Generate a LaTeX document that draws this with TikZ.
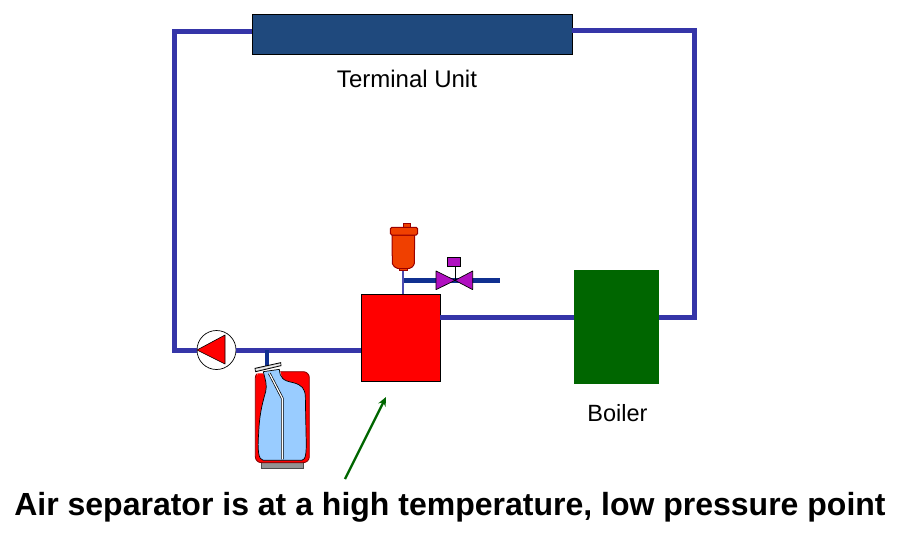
\documentclass[tikz,border=0pt]{standalone}
\usepackage{fontspec}
\setmainfont{Liberation Sans}
\usetikzlibrary{arrows.meta}
\definecolor{pipeblue}{HTML}{3535A8}
\definecolor{darkpipe}{HTML}{103090}
\definecolor{termblue}{HTML}{1F497D}
\definecolor{boilgreen}{HTML}{006600}
\definecolor{bladder}{HTML}{99CCFF}
\definecolor{ventred}{HTML}{F04000}
\definecolor{valvepurple}{HTML}{B010C0}
\tikzset{
  pipe/.style={draw=pipeblue,line width=5pt,line join=miter},
  box/.style={draw=black,line width=0.7pt,inner sep=0,outer sep=0,anchor=north west},
  lbl/.style={inner sep=0,font=\fontsize{24}{28}\selectfont}
}
\begin{document}
\begin{tikzpicture}[x=1pt,y=-1pt]
\useasboundingbox (0,0) rectangle (912,541);
\node[box,fill=termblue,minimum width=320pt,minimum height=40pt] (term) at (252,14) {};
\node[box,fill=red,minimum width=79pt,minimum height=87pt] (sep) at (361,294) {};
\node[box,draw=none,fill=boilgreen,minimum width=85pt,minimum height=114pt] (boiler) at (574,270) {};
\node[circle,draw=black,fill=white,line width=0.7pt,minimum size=39pt,inner sep=0] (pump) at (216.5,350) {};
\coordinate (tl) at (174,31);
\coordinate (bl) at (174,350);
\coordinate (tr) at (694,30);
\coordinate (br) at (694,317);
\coordinate (tee) at (267,350);
\coordinate (tankin) at (267,367);
\draw[pipe] (term.west |- tl) -- (tl) -- (bl) -- (pump.west);
\draw[pipe] (pump.east) -- (sep.west |- pump);
\draw[pipe] (sep.east |- br) -- (boiler.west |- br);
\draw[pipe] (boiler.east |- br) -- (br) -- (tr) -- (term.east |- tr);
\draw[draw=darkpipe,line width=4.6pt] (tee) -- (tankin);
\fill[red,draw=black,line width=0.6pt,line join=round] (197,350) -- (225,335) -- (225,364) -- cycle;
\begin{scope}[shift={(180,320)},x=0.333333pt,y=-0.333333pt]
  \draw[fill=gray!85,draw=gray!60!black,line width=0.5pt] (245,428) rectangle (370,445);
  \draw[fill=red,draw=black!50!red,line width=0.8pt,rounded corners=6pt] (226,155) -- (388,155) -- (388,428) -- (226,428) -- cycle;
  \fill[white] (226,145) -- (298,145) -- (305,170) -- (236,170) -- (226,155) -- cycle;
  \fill[red] (232,160) -- (250,160) -- (262,200) -- (232,300) -- cycle;
  \draw[fill=bladder,draw=black,line width=0.7pt,line join=round]
    (250,155) .. controls (256,180) and (262,195) .. (257,215)
    .. controls (244,260) and (238,290) .. (236,340)
    .. controls (232,390) and (235,420) .. (250,421)
    -- (365,421) .. controls (378,420) and (380,400) .. (378,340)
    -- (376,230) .. controls (375,205) and (365,195) .. (340,188)
    .. controls (310,182) and (300,175) .. (298,148) -- cycle;
  \draw[draw=black,line width=2.6pt,line join=round] (307,418) -- (307,235) -- (268,160);
  \draw[draw=white,line width=1.2pt,line join=round] (307,418) -- (307,235) -- (268,160);
  \draw[fill=gray!40,draw=black,line width=0.8pt] (225,145) -- (302,128) -- (303,137) -- (227,155) -- cycle;
  \draw[draw=white,line width=0.6pt] (226,150) -- (302,133);
\end{scope}
\begin{scope}[shift={(370,215)},x=0.333333pt,y=-0.333333pt]
  \coordinate (stemtop) at (99,165);
  \coordinate (stembot) at (99,238);
  \coordinate (vl) at (103,196);
  \coordinate (vr) at (390,196);
  \coordinate (vc) at (255,196);
  \draw[draw=gray!60!blue,line width=1.4pt] (stemtop) -- (stembot);
  \draw[draw=darkpipe,line width=4.6pt] (vl) -- (vr);
  \draw[fill=ventred,draw=black!40!red,line width=1pt] (100,25) rectangle (122,37);
  \draw[fill=ventred,draw=black!40!red,line width=1pt,line join=round]
    (66,60) -- (67,145) .. controls (70,155) and (80,161) .. (88,161) -- (112,161) .. controls (122,161) and (131,155) .. (133,145) -- (134,60) -- cycle;
  \draw[fill=ventred,draw=black!40!red,line width=1pt,rounded corners=1.5pt] (61,37) rectangle (143,60);
  \draw[fill=ventred,draw=black!40!red,line width=1pt] (88,161) rectangle (112,166);
  \draw[fill=valvepurple,draw=black,line width=0.7pt,line join=round] (198,168) -- (vc) -- (198,224) -- cycle;
  \draw[fill=valvepurple,draw=black,line width=0.7pt,line join=round] (308,168) -- (vc) -- (308,224) -- cycle;
  \draw[draw=black,line width=0.7pt] (255,155) -- (vc);
  \draw[fill=valvepurple,draw=black,line width=0.7pt] (232,127) rectangle (272,155);
\end{scope}
\draw[black,line width=0.7pt] (sep.north west) -- (sep.north east);
\node[lbl] (tlabel) at (407,79) {Terminal Unit};
\node[inner sep=0,font=\fontsize{23.5}{28}\selectfont] (blabel) at (617.5,413) {Boiler};
\node[inner sep=0,font=\fontsize{32}{36}\selectfont\bfseries] (cap) at (450,507) {Air separator is at a high temperature, low pressure point};
\coordinate (astart) at (345,479);
\coordinate (aend) at (386,397);
\draw[draw=boilgreen,line width=2.4pt,-{Stealth[length=9pt,width=8pt]}] (astart) -- (aend);
\end{tikzpicture}
\end{document}
